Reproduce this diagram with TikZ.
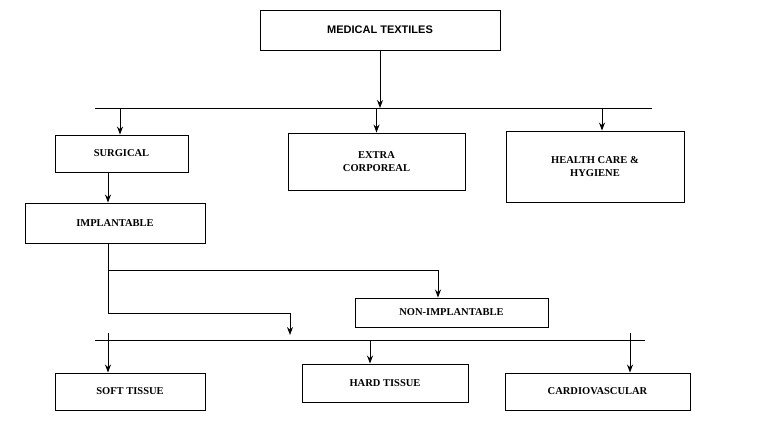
\documentclass[tikz,border=0pt]{standalone}
\usepackage{fontspec}
\setmainfont{Liberation Serif}
\setsansfont{Liberation Sans}
\usetikzlibrary{arrows.meta}
\begin{document}
\begin{tikzpicture}[x=1pt,y=1pt,yscale=-1,xscale=1,
  box/.style={draw,line width=0.9pt,inner sep=0pt,font=\bfseries\fontsize{10.5}{13}\selectfont,align=center},
  arr/.style={-{Stealth[length=8pt,width=6pt]},line width=0.9pt}]
\useasboundingbox (0,0) rectangle (768,441);
% boxes
\node[box,font=\sffamily\bfseries\fontsize{11}{13}\selectfont,minimum width=240,minimum height=40] (med) at (380,30) {MEDICAL TEXTILES};
\node[box,minimum width=133,minimum height=37] (surg) at (121.5,153.5) {SURGICAL};
\node[box,minimum width=177,minimum height=57] (extra) at (376.5,161.5) {EXTRA\\CORPOREAL};
\node[box,minimum width=178,minimum height=71] (hyg) at (595,166.5) {HEALTH CARE \&\\HYGIENE};
\node[box,minimum width=180,minimum height=40] (impl) at (115,223) {IMPLANTABLE};
\node[box,minimum width=193,minimum height=29] (non) at (451.5,312.5) {NON-IMPLANTABLE};
\node[box,minimum width=150,minimum height=37] (soft) at (130,391.5) {SOFT TISSUE};
\node[box,minimum width=166,minimum height=38] (hard) at (385,383) {HARD TISSUE};
\node[box,minimum width=185,minimum height=37] (cardio) at (597.5,391.5) {CARDIOVASCULAR};
% connectors
\coordinate (b1) at (95,108);
\coordinate (b2) at (652,108);
\coordinate (b3) at (95,340);
\coordinate (b4) at (645,340);
\draw[line width=0.9pt] (b1) -- (b2);
\draw[arr] (med.south) -- (med.south |- b1);
\draw[arr] (120,108) -- (surg.north -| 120,0);
\draw[arr] (extra.north |- b1) -- (extra.north);
\draw[arr] (602,108) -- (hyg.north -| 602,0);
\draw[arr] (108,172) -- (impl.north -| 108,0);
\draw[line width=0.9pt] (108,243) -- (108,313) -- (290,313);
\draw[arr] (290,313) -- (290,335);
\draw[line width=0.9pt] (108,270) -- (438,270);
\draw[arr] (438,270) -- (non.north -| 438,0);
\draw[line width=0.9pt] (b3) -- (b4);
\draw[arr] (108,333) -- (soft.north -| 108,0);
\draw[arr] (370,340) -- (hard.north -| 370,0);
\draw[arr] (630,333) -- (cardio.north -| 630,0);
\end{tikzpicture}
\end{document}
